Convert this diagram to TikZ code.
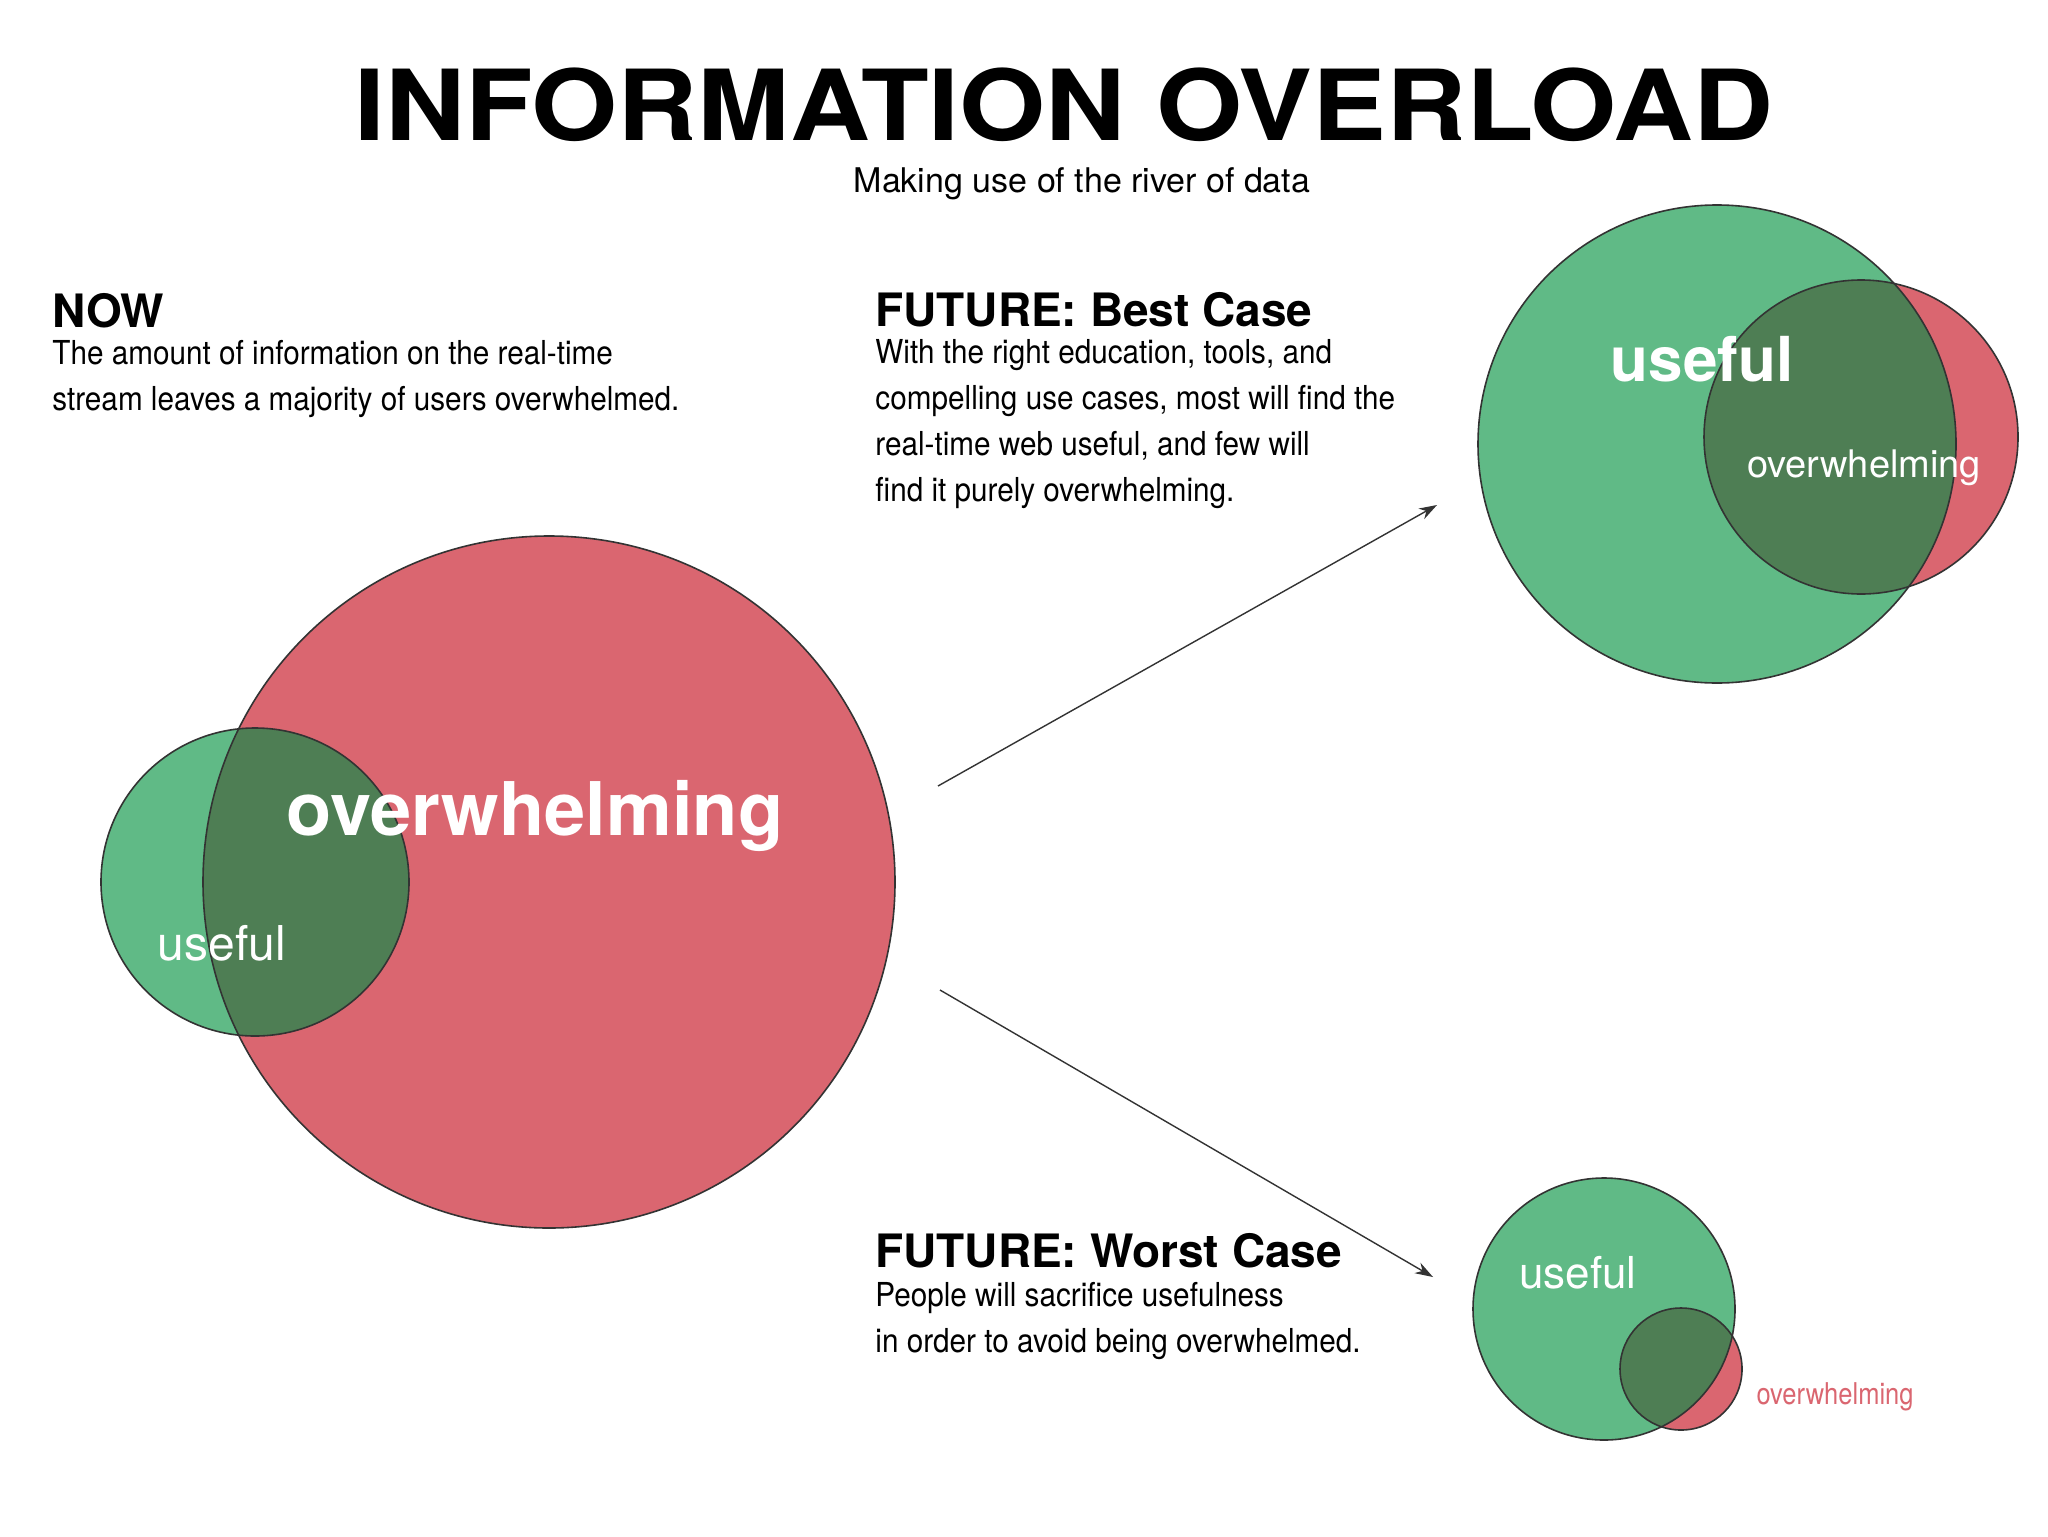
\documentclass[tikz,border=0pt]{standalone}
\usepackage{fontspec}
\usetikzlibrary{arrows.meta}
\setmainfont{TeX Gyre Heros}
\newfontfamily\narrow[FakeStretch=0.9]{TeX Gyre Heros}
\newfontfamily\smallnarrow[FakeStretch=0.85]{TeX Gyre Heros}
\begin{document}
\begin{tikzpicture}[x=0.5pt,y=-0.5pt]
\definecolor{cred}{RGB}{218,102,112}
\definecolor{cgreen}{RGB}{96,186,134}
\definecolor{cdark}{RGB}{78,126,84}
\tikzset{
  circ/.style={draw=black!80,line width=0.8pt},
  head/.style={anchor=west,inner sep=0,font=\bfseries\fontsize{23}{26}\selectfont},
  body/.style={anchor=north west,inner sep=0,align=left,font=\narrow\fontsize{16.5}{23}\selectfont},
  lbl/.style={text=white,inner sep=0},
  arr/.style={-{Stealth[length=9pt,width=6pt]},line width=0.7pt,draw=black!80}
}
\useasboundingbox (0,0) rectangle (2048,1536);
\fill[white] (0,0) rectangle (2048,1536);
\node[inner sep=0,xscale=1.13,font=\bfseries\fontsize{49}{54}\selectfont] (title) at (1064,105) {INFORMATION OVERLOAD};
\node[inner sep=0,font=\fontsize{17}{20}\selectfont] (sub) at (1082,184) {Making use of the river of data};
% NOW
\node[head] (nowh) at (52,311) {NOW};
\node[body] (nowb) at (52,340) {The amount of information on the real-time\\stream leaves a majority of users overwhelmed.};
\fill[cred] (549,882) circle (346);
\fill[cgreen] (255,882) circle (154);
\begin{scope}\clip (549,882) circle (346); \fill[cdark] (255,882) circle (154);\end{scope}
\draw[circ] (549,882) circle (346);
\draw[circ] (255,882) circle (154);
\node[lbl,font=\bfseries\fontsize{37}{40}\selectfont] (ow1) at (535,816) {overwhelming};
\node[lbl,font=\fontsize{24}{26}\selectfont] (us1) at (222,943) {useful};
% best
\node[head] (besth) at (875,310) {FUTURE: Best Case};
\node[body] (bestb) at (875,339) {With the right education, tools, and\\compelling use cases, most will find the\\real-time web useful, and few will\\find it purely overwhelming.};
\fill[cred] (1861,437) circle (157);
\fill[cgreen] (1717,444) circle (239);
\begin{scope}\clip (1861,437) circle (157); \fill[cdark] (1717,444) circle (239);\end{scope}
\draw[circ] (1861,437) circle (157);
\draw[circ] (1717,444) circle (239);
\node[lbl,font=\bfseries\fontsize{31}{34}\selectfont] (us2) at (1702,359) {useful};
\node[lbl,font=\fontsize{19}{22}\selectfont] (ow2) at (1864,468) {overwhelming};
% worst
\node[head] (worsth) at (875,1251) {FUTURE: Worst Case};
\node[body] (worstb) at (875,1282) {People will sacrifice usefulness\\in order to avoid being overwhelmed.};
\fill[cred] (1681,1369) circle (61);
\fill[cgreen] (1604,1309) circle (131);
\begin{scope}\clip (1681,1369) circle (61); \fill[cdark] (1604,1309) circle (131);\end{scope}
\draw[circ] (1681,1369) circle (61);
\draw[circ] (1604,1309) circle (131);
\node[lbl,font=\fontsize{22}{24}\selectfont] (us3) at (1578,1273) {useful};
\node[inner sep=0,text=cred,font=\smallnarrow\fontsize{15}{17}\selectfont] (ow3) at (1835,1397) {overwhelming};
% arrows
\coordinate (a1) at (938,786); \coordinate (a2) at (1437,505);
\coordinate (b1) at (940,990); \coordinate (b2) at (1433,1277);
\draw[arr] (a1) -- (a2);
\draw[arr] (b1) -- (b2);
\end{tikzpicture}
\end{document}
